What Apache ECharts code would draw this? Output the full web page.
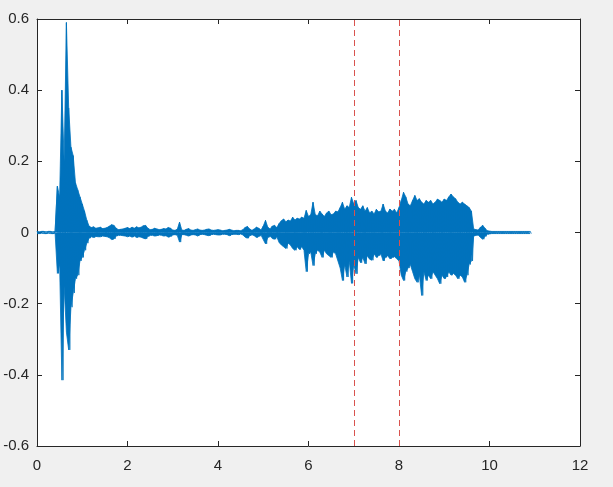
<!DOCTYPE html>
<html>
<head>
<meta charset="utf-8">
<script src="https://cdn.jsdelivr.net/npm/echarts@6/dist/echarts.min.js"></script>
<style>
html,body{margin:0;padding:0;background:#f0f0f0;}
#c{width:613px;height:487px;}
</style>
</head>
<body>
<div id="c"></div>
<script>
// waveform envelope, one pair of values every 0.05 s starting at t = 0
const sampleStep = 0.05;
const upperEnv = [
0.003,0.002,0.003,0.003,0.002,0.003,0.003,0.002,0.003,0.13,
0.10,0.40,0.20,0.59,0.35,0.24,0.216,0.14,0.12,0.10,
0.08,0.06,0.035,0.018,0.014,0.016,0.012,0.013,0.015,0.011,
0.012,0.014,0.018,0.022,0.02,0.012,0.008,0.009,0.01,0.012,
0.014,0.011,0.015,0.012,0.016,0.013,0.015,0.019,0.02,0.012,
0.008,0.009,0.012,0.01,0.008,0.009,0.011,0.01,0.014,0.012,
0.007,0.006,0.009,0.029,0.007,0.006,0.009,0.011,0.007,0.006,
0.008,0.01,0.007,0.006,0.007,0.009,0.01,0.007,0.006,0.007,
0.008,0.007,0.005,0.006,0.007,0.009,0.007,0.005,0.006,0.006,
0.005,0.008,0.014,0.017,0.01,0.006,0.01,0.015,0.012,0.007,
0.018,0.034,0.015,0.01,0.018,0.02,0.014,0.025,0.033,0.038,
0.03,0.035,0.032,0.043,0.035,0.04,0.038,0.043,0.04,0.062,
0.045,0.05,0.085,0.05,0.047,0.06,0.052,0.045,0.055,0.06,
0.05,0.052,0.06,0.058,0.07,0.085,0.065,0.075,0.07,0.099,
0.08,0.09,0.07,0.065,0.075,0.06,0.07,0.055,0.06,0.052,
0.065,0.058,0.06,0.08,0.06,0.055,0.066,0.06,0.065,0.055,
0.07,0.09,0.113,0.10,0.08,0.075,0.09,0.104,0.09,0.095,
0.085,0.08,0.09,0.085,0.09,0.08,0.085,0.094,0.09,0.085,
0.094,0.09,0.10,0.108,0.10,0.095,0.085,0.08,0.085,0.08,
0.075,0.07,0.06,0.01,0.008,0.007,0.015,0.02,0.012,0.005,
0.004,0.003,0.003,0.003,0.003,0.003,0.003,0.003,0.003,0.003,
0.003,0.003,0.003,0.003,0.003,0.003,0.003,0.003,0.003
];
const lowerEnv = [
-0.003,-0.003,-0.002,-0.003,-0.003,-0.002,-0.003,-0.003,-0.002,-0.115,
-0.09,-0.415,-0.15,-0.28,-0.33,-0.21,-0.17,-0.13,-0.12,-0.08,
-0.07,-0.05,-0.03,-0.016,-0.012,-0.014,-0.011,-0.012,-0.012,-0.01,
-0.011,-0.012,-0.015,-0.02,-0.018,-0.01,-0.008,-0.008,-0.009,-0.01,
-0.012,-0.01,-0.013,-0.01,-0.014,-0.012,-0.013,-0.016,-0.018,-0.011,
-0.008,-0.008,-0.01,-0.009,-0.007,-0.008,-0.01,-0.009,-0.013,-0.011,
-0.007,-0.006,-0.008,-0.027,-0.006,-0.006,-0.008,-0.01,-0.007,-0.006,
-0.007,-0.01,-0.006,-0.005,-0.006,-0.008,-0.009,-0.006,-0.005,-0.006,
-0.007,-0.007,-0.005,-0.005,-0.006,-0.009,-0.006,-0.005,-0.005,-0.006,
-0.004,-0.007,-0.013,-0.016,-0.009,-0.006,-0.009,-0.014,-0.011,-0.007,
-0.02,-0.032,-0.014,-0.01,-0.017,-0.019,-0.012,-0.028,-0.035,-0.04,
-0.045,-0.03,-0.035,-0.045,-0.05,-0.04,-0.048,-0.04,-0.05,-0.11,
-0.06,-0.055,-0.093,-0.06,-0.05,-0.055,-0.07,-0.05,-0.06,-0.065,
-0.07,-0.055,-0.06,-0.08,-0.10,-0.135,-0.09,-0.125,-0.08,-0.143,
-0.09,-0.116,-0.07,-0.085,-0.07,-0.088,-0.065,-0.075,-0.078,-0.06,
-0.07,-0.065,-0.06,-0.08,-0.07,-0.065,-0.074,-0.07,-0.068,-0.074,
-0.08,-0.12,-0.135,-0.11,-0.10,-0.09,-0.11,-0.13,-0.14,-0.12,
-0.177,-0.11,-0.135,-0.12,-0.13,-0.11,-0.12,-0.13,-0.144,-0.12,
-0.13,-0.125,-0.11,-0.12,-0.115,-0.12,-0.13,-0.12,-0.125,-0.14,
-0.12,-0.09,-0.08,-0.01,-0.008,-0.007,-0.014,-0.019,-0.011,-0.005,
-0.004,-0.003,-0.003,-0.003,-0.003,-0.003,-0.003,-0.003,-0.003,-0.003,
-0.003,-0.003,-0.003,-0.003,-0.003,-0.003,-0.003,-0.003,-0.003
];
const markerTimes = [7, 8];
const xTicks = [0, 2, 4, 6, 8, 10, 12];
const yTicks = [-0.6, -0.4, -0.2, 0, 0.2, 0.4, 0.6];

const upperPts = upperEnv.map((v, i) => [i * sampleStep, v]);
const lowerPts = lowerEnv.map((v, i) => [i * sampleStep, v]);
const zigzag = [];
for (let i = 0; i < upperEnv.length; i++) {
  zigzag.push([i * sampleStep, upperEnv[i]]);
  zigzag.push([(i + 0.5) * sampleStep, lowerEnv[i]]);
}

const waveColor = '#0072BD';
const axisColor = '#262626';
const font = 'Liberation Sans, Arial, sans-serif';
const chart = echarts.init(document.getElementById('c'), null, {renderer: 'canvas'});
const baseX = {
  type: 'value', min: xTicks[0], max: xTicks[xTicks.length - 1], interval: 2,
  axisLine: {show: true, onZero: false, lineStyle: {color: axisColor, width: 1}},
  axisTick: {show: true, inside: true, length: 5, lineStyle: {color: axisColor}},
  splitLine: {show: false}
};
const baseY = {
  type: 'value', min: yTicks[0], max: yTicks[yTicks.length - 1], interval: 0.2,
  axisLine: {show: true, onZero: false, lineStyle: {color: axisColor, width: 1}},
  axisTick: {show: true, inside: true, length: 5, lineStyle: {color: axisColor}},
  splitLine: {show: false}
};
const bandSeries = (pts) => ({
  type: 'line', data: pts, showSymbol: false, symbol: 'none', sampling: false,
  lineStyle: {color: waveColor, width: 0.8},
  areaStyle: {color: waveColor, opacity: 1, origin: 0},
  z: 2
});
chart.setOption({
  animation: false,
  backgroundColor: '#f0f0f0',
  grid: {left: 37, right: 33, top: 19, bottom: 41, show: true, backgroundColor: '#ffffff', borderWidth: 0},
  xAxis: [
    Object.assign({}, baseX, {position: 'bottom',
      axisLabel: {color: axisColor, fontSize: 15, fontFamily: font, margin: 12}}),
    Object.assign({}, baseX, {position: 'top', axisLabel: {show: false}})
  ],
  yAxis: [
    Object.assign({}, baseY, {position: 'left',
      axisLabel: {color: axisColor, fontSize: 15, fontFamily: font, margin: 8,
        formatter: v => String(+v.toFixed(1))}}),
    Object.assign({}, baseY, {position: 'right', axisLabel: {show: false}})
  ],
  series: [
    bandSeries(upperPts),
    bandSeries(lowerPts),
    {
      type: 'line', data: zigzag, showSymbol: false, symbol: 'none', sampling: false,
      lineStyle: {color: waveColor, width: 0.8}, z: 3,
      markLine: {
        silent: true,
        symbol: ['none', 'none'],
        label: {show: false},
        lineStyle: {color: '#d9534f', width: 1, type: [6, 4]},
        data: markerTimes.map(t => ({xAxis: t}))
      }
    }
  ]
});
</script>
</body>
</html>
